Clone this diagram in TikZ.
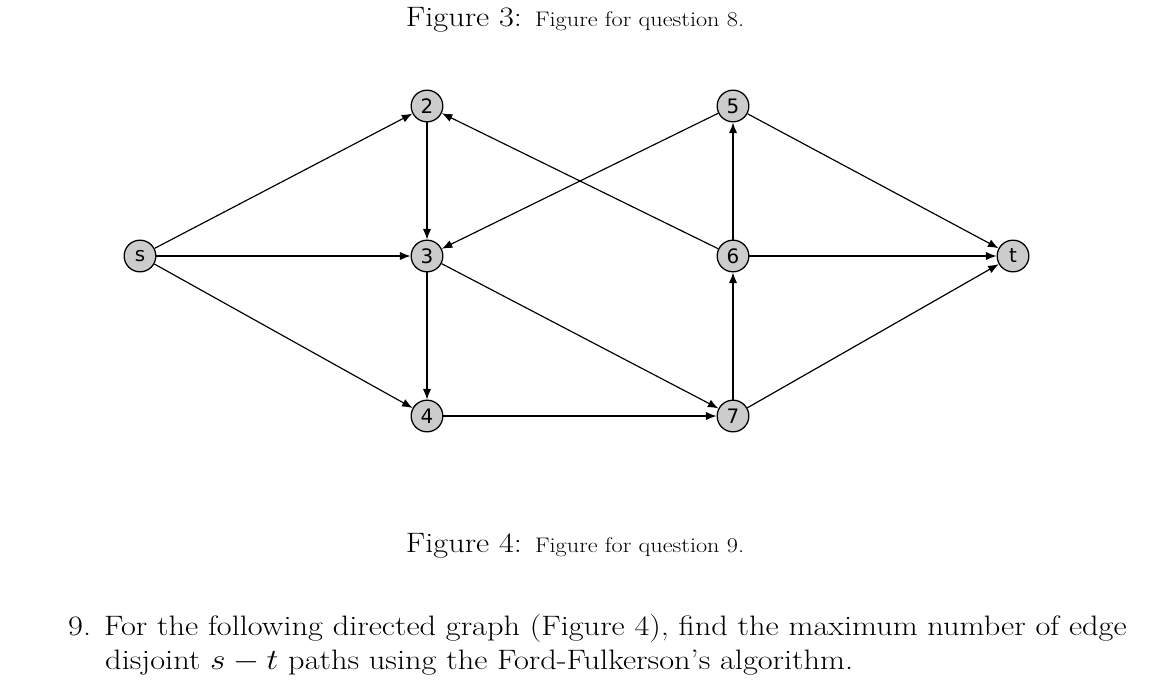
\documentclass[tikz,border=0pt]{standalone}
\usepackage{graphicx}
\usepackage{fontspec}
\usetikzlibrary{arrows.meta}
\newfontfamily\nodefont{DejaVu Sans}
\newcommand{\wide}[1]{\scalebox{1.15}[1]{#1}}
\begin{document}
\begin{tikzpicture}[x=0.03cm,y=-0.03cm,
  vtx/.style={circle,draw=black,fill=black!20,line width=1.1pt,minimum size=0.95cm,inner sep=0pt,font=\nodefont\fontsize{17}{17}\selectfont},
  arc/.style={-{Latex[length=9pt,width=7pt]},line width=1pt}]
\useasboundingbox (0,0) rectangle (1157,690);
\node (cap3) at (575,20) {\wide{\fontsize{24}{28}\selectfont Figure 3: \fontsize{18}{22}\selectfont Figure for question 8.}};
\node[vtx] (s) at (140,256) {s};
\node[vtx] (n2) at (427,106) {2};
\node[vtx] (n3) at (427,256) {3};
\node[vtx] (n4) at (427,416) {4};
\node[vtx] (n5) at (733,106) {5};
\node[vtx] (n6) at (733,256) {6};
\node[vtx] (n7) at (733,416) {7};
\node[vtx] (t) at (1013,256) {t};
\draw[arc] (s)--(n2); \draw[arc] (s)--(n3); \draw[arc] (s)--(n4);
\draw[arc] (n2)--(n3); \draw[arc] (n3)--(n4); \draw[arc] (n4)--(n7);
\draw[arc] (n3)--(n7); \draw[arc] (n6)--(n2); \draw[arc] (n5)--(n3);
\draw[arc] (n6)--(n5); \draw[arc] (n7)--(n6); \draw[arc] (n6)--(t);
\draw[arc] (n5)--(t); \draw[arc] (n7)--(t);
\node (cap4) at (575,546) {\wide{\fontsize{24}{28}\selectfont Figure 4: \fontsize{18}{22}\selectfont Figure for question 9.}};
\node[anchor=west,inner sep=0pt] (q1) at (68,628) {\wide{\fontsize{24}{28}\selectfont 9. For the following directed graph (Figure 4), find the maximum number of edge}};
\node[anchor=west,inner sep=0pt] (q2) at (105,663) {\wide{\fontsize{24}{28}\selectfont disjoint $s-t$ paths using the Ford-Fulkerson's algorithm.}};
\end{tikzpicture}
\end{document}
